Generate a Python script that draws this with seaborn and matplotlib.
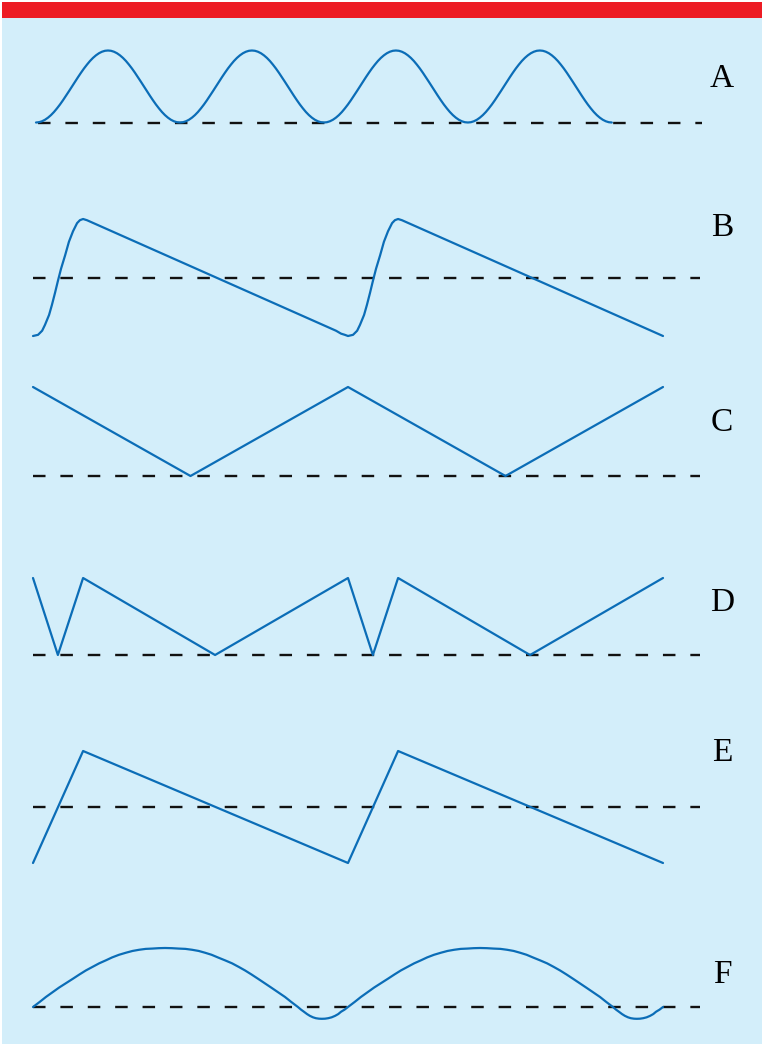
import numpy as np
import matplotlib
matplotlib.use("Agg")
import matplotlib.pyplot as plt
from matplotlib.patches import Rectangle
import seaborn as sns

# ---------------- data (time in periods, amplitude normalised) ----------------
# A: one cycle of the raised-cosine pulse, sampled at 1/48 of its period
a_cycle_values = [0.0, 0.004, 0.017, 0.038, 0.067, 0.103, 0.146, 0.196, 0.25, 0.309,
                  0.371, 0.435, 0.5, 0.565, 0.629, 0.691, 0.75, 0.804, 0.854, 0.897,
                  0.933, 0.962, 0.983, 0.996, 1.0, 0.996, 0.983, 0.962, 0.933, 0.897,
                  0.854, 0.804, 0.75, 0.691, 0.629, 0.565, 0.5, 0.435, 0.371, 0.309,
                  0.25, 0.196, 0.146, 0.103, 0.067, 0.038, 0.017, 0.004, 0.0]
a_start = 0.0095
a_period = 0.457
a_cycles = 4

# B: smoothed sawtooth (fast rise, slow linear fall), one period
b_cycle_t = [0.0, 0.016, 0.029, 0.038, 0.051, 0.060, 0.070, 0.079, 0.089, 0.102,
             0.114, 0.127, 0.140, 0.149, 0.159, 0.171, 0.962, 0.978, 0.990, 1.0]
b_cycle_v = [-1.0, -0.98, -0.91, -0.81, -0.64, -0.47, -0.26, -0.06, 0.15, 0.38,
             0.61, 0.79, 0.93, 0.98, 1.0, 0.98, -0.91, -0.96, -0.98, -1.0]
b_end_t = 2.0
b_end_v = -1.0

# C: triangle wave
c_t = [0.0, 0.5, 1.0, 1.5, 2.0]
c_v = [1.0, 0.0, 1.0, 0.0, 1.0]

# D: rectified sawtooth-like wave
d_t = [0.0, 0.079, 0.159, 0.578, 1.0, 1.079, 1.159, 1.578, 2.0]
d_v = [1.0, 0.0, 1.0, 0.0, 1.0, 0.0, 1.0, 0.0, 1.0]

# E: sawtooth
e_t = [0.0, 0.159, 1.0, 1.159, 2.0]
e_v = [-1.0, 1.0, -1.0, 1.0, -1.0]

# F: hump with small negative dip, one period
f_cycle_t = [0.0, 0.021, 0.041, 0.062, 0.083, 0.105, 0.127, 0.147, 0.168, 0.189,
             0.210, 0.231, 0.251, 0.273, 0.295, 0.316, 0.337, 0.358, 0.378, 0.399,
             0.419, 0.441, 0.463, 0.484, 0.505, 0.526, 0.546, 0.567, 0.587, 0.610,
             0.632, 0.653, 0.673, 0.694, 0.714, 0.735, 0.756, 0.778, 0.800, 0.820,
             0.841, 0.851, 0.860, 0.870, 0.879, 0.889, 0.898, 0.908, 0.917, 0.927,
             0.937, 0.948, 0.959, 0.969, 0.978, 0.989, 1.0]
f_cycle_v = [0.0, 0.085, 0.17, 0.25, 0.33, 0.405, 0.48, 0.55, 0.62, 0.68,
             0.74, 0.79, 0.84, 0.885, 0.92, 0.95, 0.97, 0.985, 0.99, 0.997,
             1.0, 0.997, 0.99, 0.985, 0.97, 0.95, 0.92, 0.885, 0.84, 0.79,
             0.74, 0.68, 0.62, 0.55, 0.48, 0.405, 0.33, 0.25, 0.17, 0.085,
             0.0, -0.045, -0.08, -0.12, -0.15, -0.175, -0.19, -0.198, -0.2, -0.198,
             -0.19, -0.175, -0.15, -0.12, -0.08, -0.045, 0.0]
f_cycles = 2

labels = ["A", "B", "C", "D", "E", "F"]
baseline_start = [0.016, 0.0, 0.0, 0.0, 0.0, 0.0]
baseline_end = [2.124, 2.117, 2.117, 2.117, 2.117, 2.117]

# ---------------- build series ----------------
a_t, a_v = [], []
for c in range(a_cycles):
    n = len(a_cycle_values) - 1
    for k, v in enumerate(a_cycle_values):
        if c > 0 and k == 0:
            continue
        a_t.append(a_start + (c + k / n) * a_period)
        a_v.append(v)

b_t, b_v = [], []
for c in range(2):
    for k, (t, v) in enumerate(zip(b_cycle_t, b_cycle_v)):
        if c > 0 and k == 0:
            continue
        if c == 1 and t > 0.2:
            continue
        b_t.append(c + t)
        b_v.append(v)
b_t.append(b_end_t)
b_v.append(b_end_v)

f_t, f_v = [], []
for c in range(f_cycles):
    for k, (t, v) in enumerate(zip(f_cycle_t, f_cycle_v)):
        if c > 0 and k == 0:
            continue
        f_t.append(c + t)
        f_v.append(v)

series = [(a_t, a_v), (b_t, b_v), (c_t, c_v), (d_t, d_v), (e_t, e_v), (f_t, f_v)]

# ---------------- layout (pixels of the 765x1047 canvas) ----------------
W, H = 765, 1047
x0_px, t_scale_px = 33, 315
panel_base_px = [122.5, 277.5, 476, 655, 807, 1007]
panel_amp_px = [72, 58.5, 89, 77, 56, 59]
label_x_px = 722
label_baseline_px = [87, 236, 431, 611, 761, 983]

line_color = "#0b6db7"
bg_color = "#d3eefa"
red_color = "#ed1c24"

sns.set_theme(style="white")
plt.rcParams["font.family"] = ["Liberation Serif", "DejaVu Serif"]

fig = plt.figure(figsize=(W / 100, H / 100), dpi=100)
fig.patch.set_facecolor("white")
fig.patches.append(Rectangle((2 / W, (H - 1044) / H), 760 / W, 1026 / H,
                             transform=fig.transFigure, facecolor=bg_color,
                             edgecolor="none", zorder=-10))
fig.patches.append(Rectangle((2 / W, (H - 18) / H), 760 / W, 16 / H,
                             transform=fig.transFigure, facecolor=red_color,
                             edgecolor="none", zorder=-10))

xlim = (-x0_px / t_scale_px, (W - x0_px) / t_scale_px)

for i, ((t, v), lab) in enumerate(zip(series, labels)):
    ax = fig.add_axes([0, 0, 1, 1])
    ax.patch.set_alpha(0)
    ax.set_zorder(1 + i)
    base, amp = panel_base_px[i], panel_amp_px[i]
    ax.set_xlim(*xlim)
    ax.set_ylim(-(H - base) / amp, base / amp)
    ax.axis("off")
    ax.hlines(0, baseline_start[i], baseline_end[i], colors="#111111",
              linewidth=1.7, linestyles=(0, (5.3, 6.3)), zorder=1)
    sns.lineplot(x=t, y=v, ax=ax, color=line_color, linewidth=1.6,
                 sort=False, estimator=None, zorder=2,
                 solid_joinstyle="round", solid_capstyle="round")
    ax.text((label_x_px - x0_px) / t_scale_px, (base - label_baseline_px[i]) / amp,
            lab, fontsize=24, ha="center", va="baseline", color="black")

fig.savefig("out.png", dpi=100, facecolor=fig.get_facecolor())
